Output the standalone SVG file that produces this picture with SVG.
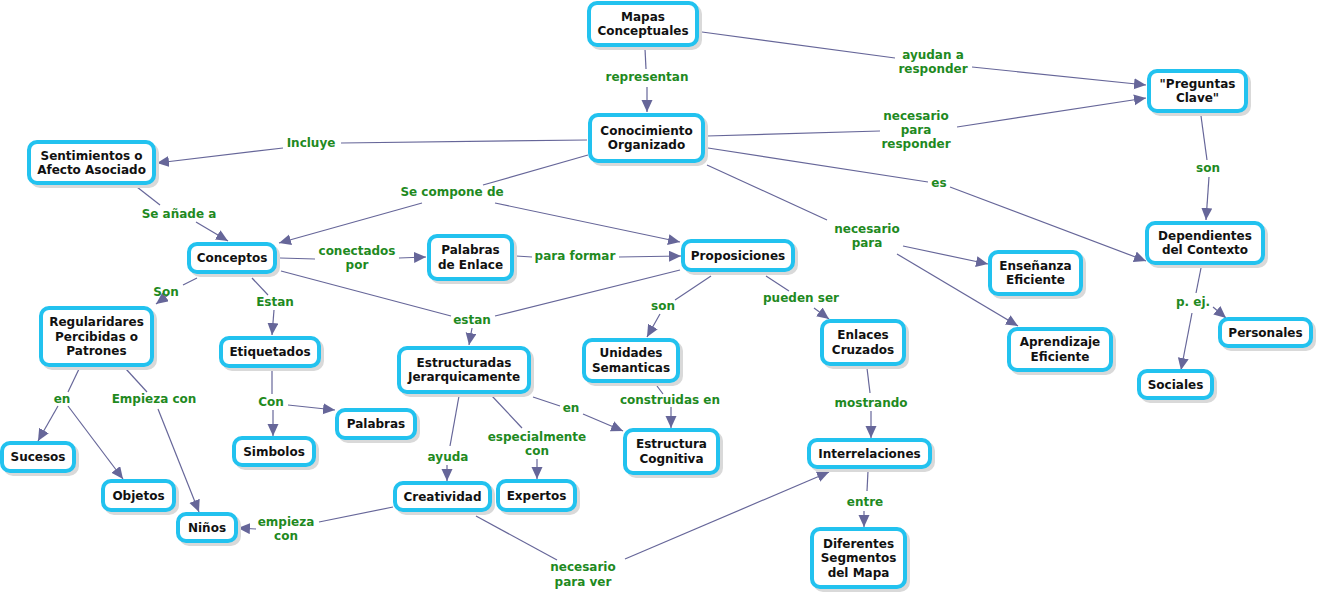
<svg xmlns="http://www.w3.org/2000/svg" width="1320" height="594" viewBox="0 0 1320 594">
<style>
.s{fill:#d9d9d9;stroke:#d9d9d9;stroke-width:4}
.b{fill:#fff;stroke:#22c2ef;stroke-width:4}
.n text{font-family:"DejaVu Sans",Verdana,sans-serif;font-weight:bold;font-size:12px;fill:#111;text-anchor:middle}
.c line{stroke:#666699;stroke-width:1.2}
.c line.a{marker-end:url(#ah)}
.c text{font-family:"DejaVu Sans",Verdana,sans-serif;font-weight:bold;font-size:12px;fill:#1f8a1f;text-anchor:middle}
</style>
<defs>
<marker id="ah" markerUnits="userSpaceOnUse" markerWidth="13" markerHeight="12" refX="12" refY="5.5" orient="auto">
<path d="M0,0 L12,5.5 L0,11 z" fill="#666699"/>
</marker>
</defs>
<rect width="1320" height="594" fill="#fff"/>
<g id="connectors" class="c">
<line x1="645" y1="49" x2="646" y2="69"/><line class="a" x1="647" y1="87" x2="647" y2="112"/>
<text x="647" y="81">representan</text>
<line x1="702" y1="32" x2="895" y2="58"/><line class="a" x1="972" y1="67" x2="1146" y2="85"/>
<text x="933" y="59">ayudan a</text><text x="933" y="73">responder</text>
<line x1="707" y1="136" x2="880" y2="131"/><line class="a" x1="957" y1="127" x2="1146" y2="98"/>
<text x="916" y="120">necesario</text><text x="916" y="134">para</text><text x="916" y="148">responder</text>
<line x1="587" y1="140" x2="341" y2="143"/><line class="a" x1="283" y1="148" x2="157" y2="163"/>
<text x="311" y="147">Incluye</text>
<line x1="588" y1="155" x2="483" y2="185"/><line class="a" x1="422" y1="203" x2="279" y2="243"/><line class="a" x1="495" y1="203" x2="680" y2="242"/>
<text x="452" y="196">Se compone de</text>
<line x1="708" y1="148" x2="928" y2="182"/><line class="a" x1="950" y1="187" x2="1146" y2="261"/>
<text x="939" y="187">es</text>
<line x1="707" y1="165" x2="827" y2="220"/><line class="a" x1="903" y1="246" x2="988" y2="264"/><line class="a" x1="897" y1="254" x2="1018" y2="326"/>
<text x="867" y="233">necesario</text><text x="867" y="247">para</text>
<line x1="137" y1="187" x2="160" y2="205"/><line class="a" x1="196" y1="222" x2="228" y2="241"/>
<text x="179" y="218">Se añade a</text>
<line x1="1201" y1="116" x2="1207" y2="160"/><line class="a" x1="1209" y1="177" x2="1206" y2="220"/>
<text x="1208" y="172">son</text>
<line x1="280" y1="258" x2="315" y2="259"/><line class="a" x1="399" y1="258" x2="426" y2="257"/>
<text x="357" y="255">conectados</text><text x="357" y="269">por</text>
<line x1="516" y1="256" x2="532" y2="257"/><line class="a" x1="619" y1="257" x2="681" y2="256"/>
<text x="575" y="260">para formar</text>
<line x1="281" y1="271" x2="451" y2="316"/><line x1="680" y1="270" x2="495" y2="316"/><line class="a" x1="472" y1="328" x2="469" y2="345"/>
<text x="472" y="324">estan</text>
<line x1="197" y1="278" x2="183" y2="285"/><line class="a" x1="168" y1="295" x2="156" y2="304"/>
<text x="166" y="296">Son</text>
<line x1="252" y1="278" x2="268" y2="295"/><line class="a" x1="274" y1="310" x2="272" y2="335"/>
<text x="275" y="306">Estan</text>
<line x1="711" y1="276" x2="675" y2="300"/><line class="a" x1="660" y1="314" x2="647" y2="337"/>
<text x="663" y="310">son</text>
<line x1="766" y1="276" x2="789" y2="291"/><line class="a" x1="814" y1="308" x2="829" y2="319"/>
<text x="801" y="302">pueden ser</text>
<line x1="79" y1="369" x2="68" y2="392"/><line class="a" x1="58" y1="406" x2="38" y2="441"/><line class="a" x1="68" y1="406" x2="123" y2="479"/>
<text x="62" y="403">en</text>
<line x1="126" y1="369" x2="147" y2="392"/><line class="a" x1="158" y1="409" x2="199" y2="512"/>
<text x="154" y="403">Empieza con</text>
<line x1="272" y1="370" x2="272" y2="394"/><line class="a" x1="273" y1="410" x2="273" y2="436"/><line class="a" x1="288" y1="405" x2="335" y2="410"/>
<text x="271" y="406">Con</text>
<line x1="459" y1="396" x2="450" y2="446"/><line class="a" x1="447" y1="465" x2="447" y2="481"/>
<text x="448" y="461">ayuda</text>
<line x1="492" y1="396" x2="522" y2="428"/><line class="a" x1="537" y1="459" x2="537" y2="479"/>
<text x="537" y="441">especialmente</text><text x="537" y="455">con</text>
<line x1="533" y1="397" x2="560" y2="406"/><line class="a" x1="583" y1="414" x2="623" y2="431"/>
<text x="571" y="412">en</text>
<line x1="657" y1="386" x2="663" y2="394"/><line class="a" x1="671" y1="407" x2="671" y2="428"/>
<text x="670" y="404">construidas en</text>
<line x1="867" y1="368" x2="870" y2="393"/><line class="a" x1="871" y1="411" x2="871" y2="438"/>
<text x="871" y="407">mostrando</text>
<line x1="868" y1="471" x2="867" y2="491"/><line class="a" x1="864" y1="511" x2="864" y2="527"/>
<text x="865" y="506">entre</text>
<line x1="393" y1="507" x2="319" y2="522"/><line class="a" x1="256" y1="529" x2="238" y2="528"/>
<text x="286" y="526">empieza</text><text x="286" y="540">con</text>
<line x1="476" y1="516" x2="557" y2="560"/><line class="a" x1="625" y1="559" x2="829" y2="472"/>
<text x="583" y="571">necesario</text><text x="583" y="586">para ver</text>
<line x1="1201" y1="268" x2="1196" y2="293"/><line class="a" x1="1192" y1="313" x2="1181" y2="370"/><line class="a" x1="1213" y1="307" x2="1226" y2="318"/>
<text x="1193" y="306">p. ej.</text>
</g>
<g id="n-mapas" class="n"><rect class="s" x="592" y="6" width="108" height="42" rx="8"/><rect class="b" x="589" y="3" width="108" height="42" rx="8"/><text x="643" y="20.5">Mapas</text><text x="643" y="35">Conceptuales</text></g>
<g id="n-conocimiento" class="n"><rect class="s" x="593" y="118" width="113" height="46" rx="8"/><rect class="b" x="590" y="115" width="113" height="46" rx="8"/><text x="646.5" y="134.5">Conocimiento</text><text x="646.5" y="149">Organizado</text></g>
<g id="n-preguntas" class="n"><rect class="s" x="1152" y="74" width="97" height="40" rx="8"/><rect class="b" x="1149" y="71" width="97" height="40" rx="8"/><text x="1197.5" y="87.5">"Preguntas</text><text x="1197.5" y="102">Clave"</text></g>
<g id="n-sentimientos" class="n"><rect class="s" x="32" y="145" width="125" height="41" rx="8"/><rect class="b" x="29" y="142" width="125" height="41" rx="8"/><text x="91.5" y="159.5">Sentimientos o</text><text x="91.5" y="174">Afecto Asociado</text></g>
<g id="n-conceptos" class="n"><rect class="s" x="192" y="247" width="86" height="28" rx="8"/><rect class="b" x="189" y="244" width="86" height="28" rx="8"/><text x="232" y="262">Conceptos</text></g>
<g id="n-palabrasenlace" class="n"><rect class="s" x="432" y="239" width="83" height="43" rx="8"/><rect class="b" x="429" y="236" width="83" height="43" rx="8"/><text x="470.5" y="254">Palabras</text><text x="470.5" y="268.5">de Enlace</text></g>
<g id="n-proposiciones" class="n"><rect class="s" x="686" y="244" width="110" height="29" rx="8"/><rect class="b" x="683" y="241" width="110" height="29" rx="8"/><text x="738" y="259.5">Proposiciones</text></g>
<g id="n-regularidares" class="n"><rect class="s" x="44" y="311" width="111" height="57" rx="8"/><rect class="b" x="41" y="308" width="111" height="57" rx="8"/><text x="96.5" y="326">Regularidares</text><text x="96.5" y="340.5">Percibidas o</text><text x="96.5" y="355">Patrones</text></g>
<g id="n-etiquetados" class="n"><rect class="s" x="224" y="341" width="98" height="28" rx="8"/><rect class="b" x="221" y="338" width="98" height="28" rx="8"/><text x="270" y="356">Etiquetados</text></g>
<g id="n-estructuradas" class="n"><rect class="s" x="402" y="351" width="130" height="44" rx="8"/><rect class="b" x="399" y="348" width="130" height="44" rx="8"/><text x="464" y="366.5">Estructuradas</text><text x="464" y="381">Jerarquicamente</text></g>
<g id="n-unidades" class="n"><rect class="s" x="587" y="343" width="94" height="41" rx="8"/><rect class="b" x="584" y="340" width="94" height="41" rx="8"/><text x="631" y="357">Unidades</text><text x="631" y="371.5">Semanticas</text></g>
<g id="n-enlaces" class="n"><rect class="s" x="825" y="324" width="82" height="43" rx="8"/><rect class="b" x="822" y="321" width="82" height="43" rx="8"/><text x="863" y="339">Enlaces</text><text x="863" y="353.5">Cruzados</text></g>
<g id="n-ensenanza" class="n"><rect class="s" x="993" y="255" width="91" height="42" rx="8"/><rect class="b" x="990" y="252" width="91" height="42" rx="8"/><text x="1035.5" y="269.5">Enseñanza</text><text x="1035.5" y="284">Eficiente</text></g>
<g id="n-aprendizaje" class="n"><rect class="s" x="1012" y="332" width="102" height="41" rx="8"/><rect class="b" x="1009" y="329" width="102" height="41" rx="8"/><text x="1060" y="346">Aprendizaje</text><text x="1060" y="360.5">Eficiente</text></g>
<g id="n-dependientes" class="n"><rect class="s" x="1150" y="226" width="116" height="40" rx="8"/><rect class="b" x="1147" y="223" width="116" height="40" rx="8"/><text x="1205" y="239.5">Dependientes</text><text x="1205" y="254">del Contexto</text></g>
<g id="n-personales" class="n"><rect class="s" x="1223" y="322" width="91" height="27" rx="8"/><rect class="b" x="1220" y="319" width="91" height="27" rx="8"/><text x="1265.5" y="336.5">Personales</text></g>
<g id="n-sociales" class="n"><rect class="s" x="1142" y="374" width="73" height="27" rx="8"/><rect class="b" x="1139" y="371" width="73" height="27" rx="8"/><text x="1175.5" y="388.5">Sociales</text></g>
<g id="n-sucesos" class="n"><rect class="s" x="5" y="446" width="72" height="28" rx="8"/><rect class="b" x="2" y="443" width="72" height="28" rx="8"/><text x="38" y="461">Sucesos</text></g>
<g id="n-objetos" class="n"><rect class="s" x="106" y="484" width="71" height="29" rx="8"/><rect class="b" x="103" y="481" width="71" height="29" rx="8"/><text x="138.5" y="499.5">Objetos</text></g>
<g id="n-ninos" class="n"><rect class="s" x="181" y="517" width="58" height="27" rx="8"/><rect class="b" x="178" y="514" width="58" height="27" rx="8"/><text x="207" y="531.5">Niños</text></g>
<g id="n-simbolos" class="n"><rect class="s" x="237" y="441" width="80" height="27" rx="8"/><rect class="b" x="234" y="438" width="80" height="27" rx="8"/><text x="274" y="455.5">Simbolos</text></g>
<g id="n-palabras" class="n"><rect class="s" x="340" y="413" width="78" height="28" rx="8"/><rect class="b" x="337" y="410" width="78" height="28" rx="8"/><text x="376" y="428">Palabras</text></g>
<g id="n-creatividad" class="n"><rect class="s" x="398" y="486" width="95" height="27" rx="8"/><rect class="b" x="395" y="483" width="95" height="27" rx="8"/><text x="442.5" y="500.5">Creatividad</text></g>
<g id="n-expertos" class="n"><rect class="s" x="501" y="484" width="77" height="29" rx="8"/><rect class="b" x="498" y="481" width="77" height="29" rx="8"/><text x="536.5" y="499.5">Expertos</text></g>
<g id="n-estructura" class="n"><rect class="s" x="628" y="433" width="93" height="43" rx="8"/><rect class="b" x="625" y="430" width="93" height="43" rx="8"/><text x="671.5" y="448">Estructura</text><text x="671.5" y="462.5">Cognitiva</text></g>
<g id="n-interrelaciones" class="n"><rect class="s" x="812" y="443" width="121" height="27" rx="8"/><rect class="b" x="809" y="440" width="121" height="27" rx="8"/><text x="869.5" y="457.5">Interrelaciones</text></g>
<g id="n-diferentes" class="n"><rect class="s" x="815" y="532" width="93" height="58" rx="8"/><rect class="b" x="812" y="529" width="93" height="58" rx="8"/><text x="858.5" y="547.5">Diferentes</text><text x="858.5" y="562">Segmentos</text><text x="858.5" y="576.5">del Mapa</text></g>
</svg>
